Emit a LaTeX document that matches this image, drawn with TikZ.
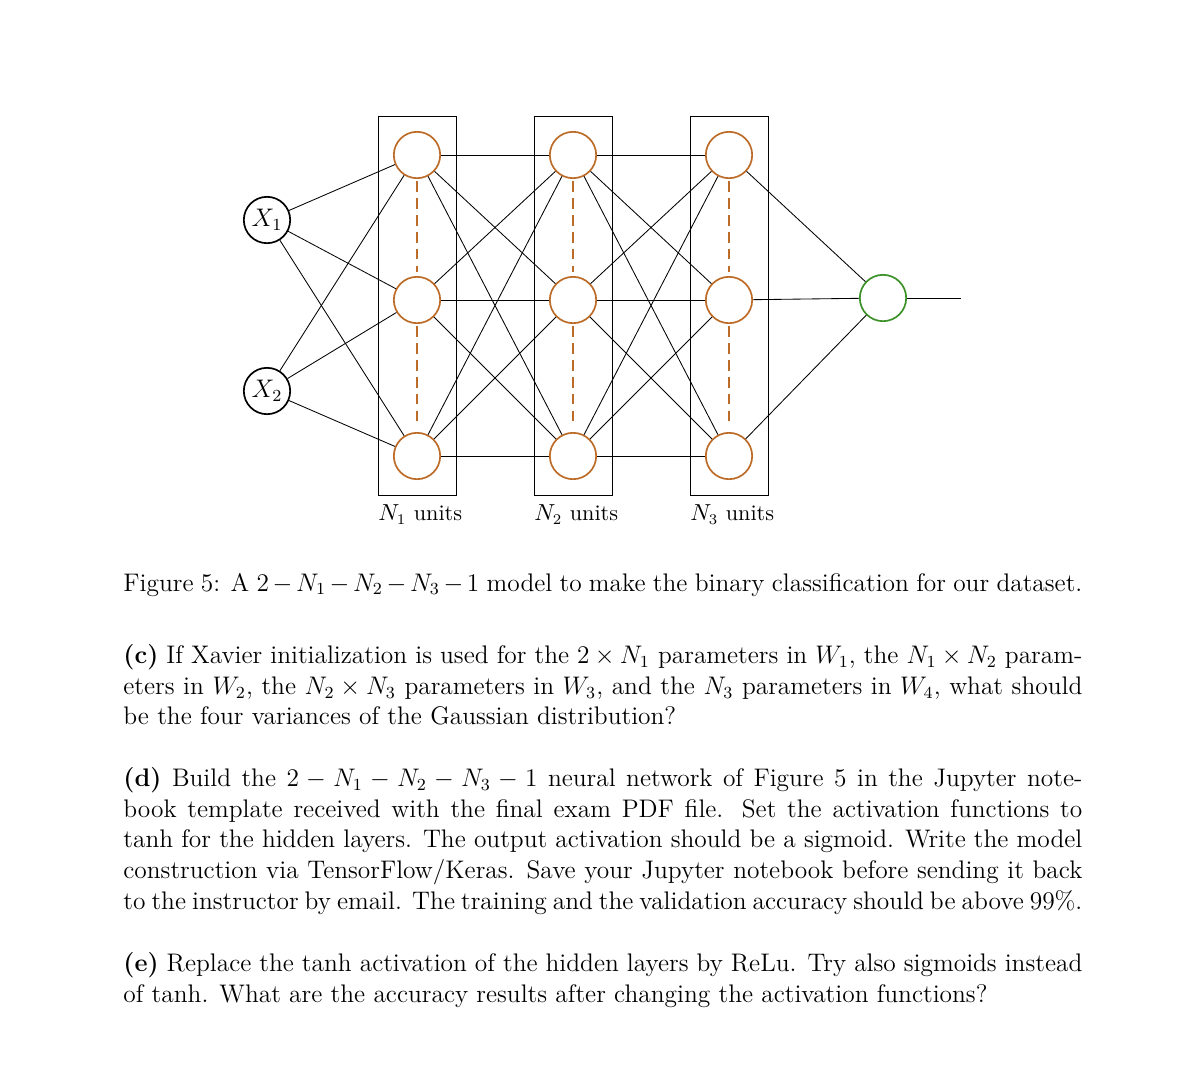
\documentclass[tikz,border=0pt]{standalone}
\usetikzlibrary{positioning}
\usetikzlibrary{fit}

\definecolor{unitorange}{RGB}{188,108,40}
\definecolor{outgreen}{RGB}{60,145,40}

\tikzset{
  inunit/.style={circle, draw, thick, minimum size=21.9pt, inner sep=0pt, font=\fontsize{12}{14.5}\selectfont},
  hidunit/.style={circle, draw=unitorange, thick, minimum size=21.9pt, inner sep=0pt},
  outunit/.style={circle, draw=outgreen, thick, minimum size=21.9pt, inner sep=0pt},
  layerbox/.style={draw, inner sep=7.1pt},
  layerlabel/.style={font=\fontsize{10.5}{13}\selectfont, xshift=1.5pt},
  dotsline/.style={draw=unitorange, thick, dash pattern=on 5pt off 3pt, shorten <=1pt, shorten >=2pt},
  para/.style={anchor=base west, inner sep=0pt, text width=453pt, align=justify, font=\fontsize{12}{14.5}\selectfont},
}

\begin{document}
\begin{tikzpicture}[x=0.4724pt, y=-0.4724pt]
\useasboundingbox (0,0) rectangle (1182,1074);
% input units
\node[inunit] (x1) at (267,220) {$X_1$};
\node[inunit] (x2) at (267,391) {$X_2$};
% hidden units
\node[hidunit] (a1) at (417,155) {};
\node[hidunit] (a2) at (417,300) {};
\node[hidunit] (a3) at (417,456) {};
\node[hidunit] (b1) at (573,155) {};
\node[hidunit] (b2) at (573,300) {};
\node[hidunit] (b3) at (573,456) {};
\node[hidunit] (c1) at (729,155) {};
\node[hidunit] (c2) at (729,300) {};
\node[hidunit] (c3) at (729,456) {};
% output unit
\node[outunit] (y) at (883,298) {};
\coordinate (yend) at (961,298);
% layer boxes and labels
\node[layerbox, fit=(a1)(a3)] (box1) {};
\node[layerbox, fit=(b1)(b3)] (box2) {};
\node[layerbox, fit=(c1)(c3)] (box3) {};
\node[layerlabel] (lab1) [below=1pt of box1] {$N_1$ units};
\node[layerlabel] (lab2) [below=1pt of box2] {$N_2$ units};
\node[layerlabel] (lab3) [below=1pt of box3] {$N_3$ units};
% dashed fillers
\draw[dotsline] (a1.south) -- (a2.north);
\draw[dotsline] (a2.south) -- (a3.north);
\draw[dotsline] (b1.south) -- (b2.north);
\draw[dotsline] (b2.south) -- (b3.north);
\draw[dotsline] (c1.south) -- (c2.north);
\draw[dotsline] (c2.south) -- (c3.north);
% connections
\draw (x1) -- (a1);
\draw (x1) -- (a2);
\draw (x1) -- (a3);
\draw (x2) -- (a1);
\draw (x2) -- (a2);
\draw (x2) -- (a3);
\draw (a1) -- (b1);
\draw (a1) -- (b2);
\draw (a1) -- (b3);
\draw (a2) -- (b1);
\draw (a2) -- (b2);
\draw (a2) -- (b3);
\draw (a3) -- (b1);
\draw (a3) -- (b2);
\draw (a3) -- (b3);
\draw (b1) -- (c1);
\draw (b1) -- (c2);
\draw (b1) -- (c3);
\draw (b2) -- (c1);
\draw (b2) -- (c2);
\draw (b2) -- (c3);
\draw (b3) -- (c1);
\draw (b3) -- (c2);
\draw (b3) -- (c3);
\draw (c1) -- (y);
\draw (c2) -- (y);
\draw (c3) -- (y);
\draw (y) -- (yend);
% caption and questions
\node[anchor=base west, inner sep=0pt, font=\fontsize{12}{14.5}\selectfont] (caption) at (123,591)
  {\hbox to 453pt{Figure 5: A $2-N_1-N_2-N_3-1$ model to make the binary classification for our dataset.}};
\node[para] (partc) at (123,663.5)
  {\textbf{(c)} If Xavier initialization is used for the $2\times N_1$ parameters in $W_1$, the $N_1\times N_2$ param-\linebreak
  eters in $W_2$, the $N_2\times N_3$ parameters in $W_3$, and the $N_3$ parameters in $W_4$, what should\linebreak
  be the four variances of the Gaussian distribution?};
\node[para] (partd) at (123,786.5)
  {\textbf{(d)} Build the $2-N_1-N_2-N_3-1$ neural network of Figure 5 in the Jupyter note-\linebreak
  book template received with the final exam PDF file.  Set the activation functions to\linebreak
  tanh for the hidden layers. The output activation should be a sigmoid. Write the model\linebreak
  construction via TensorFlow/Keras. Save your Jupyter notebook before sending it back\linebreak
  \hbox to 453pt{to the instructor by email. The training and the validation accuracy should be above 99\%.}};
\node[para] (parte) at (123,971.5)
  {\textbf{(e)} Replace the tanh activation of the hidden layers by ReLu. Try also sigmoids instead\linebreak
  of tanh. What are the accuracy results after changing the activation functions?};
\end{tikzpicture}
\end{document}
